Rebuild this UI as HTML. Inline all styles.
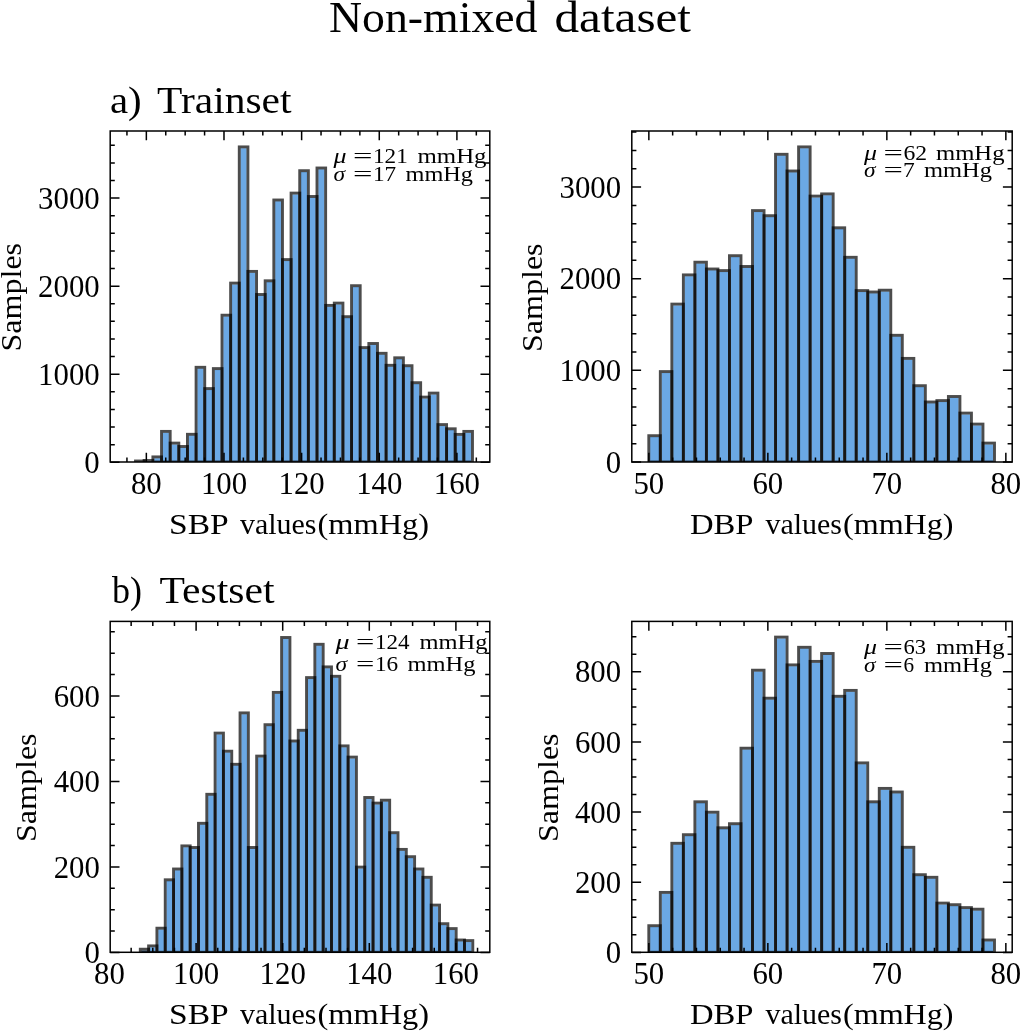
<!DOCTYPE html>
<html lang="en">
<head>
<meta charset="utf-8">
<title>Non-mixed dataset</title>
<style>
html,body{margin:0;padding:0;background:#fff;}
body{width:1020px;height:1032px;overflow:hidden;}
svg{display:block;}
svg text{font-family:"Liberation Serif", "DejaVu Serif", serif;fill:#000;}
</style>
</head>
<body>
<svg width="1020" height="1032" viewBox="0 0 1020 1032">
<rect width="1020" height="1032" fill="#fff"/>
<g>
<clipPath id="c1"><rect x="110.2" y="131" width="379.6" height="331"/></clipPath>
<g clip-path="url(#c1)">
<path d="M136.8 462.3h6.04v1h-6.04zM145.4 461.8h6.04v1.5h-6.04zM154.2 458.2h6.04v5.1h-6.04zM162.84 432.7h6.04v30.6h-6.04zM171.47 444.4h6.04v18.9h-6.04zM180.11 447.8h6.04v15.5h-6.04zM188.75 435.6h6.04v27.7h-6.04zM197.39 368.6h6.04v94.7h-6.04zM206.02 389.9h6.04v73.4h-6.04zM214.66 369.9h6.04v93.4h-6.04zM223.3 316.5h6.04v146.8h-6.04zM231.93 284.4h6.04v178.9h-6.04zM240.57 148.2h6.04v315.1h-6.04zM249.21 272.7h6.04v190.6h-6.04zM257.84 295.8h6.04v167.5h-6.04zM266.48 282.1h6.04v181.2h-6.04zM275.12 201.3h6.04v262h-6.04zM283.76 260.9h6.04v202.4h-6.04zM292.39 194.4h6.04v268.9h-6.04zM301.03 172h6.04v291.3h-6.04zM309.67 197.8h6.04v265.5h-6.04zM318.3 169.3h6.04v294h-6.04zM326.94 306.7h6.04v156.6h-6.04zM335.58 304.4h6.04v158.9h-6.04zM344.21 318h6.04v145.3h-6.04zM352.85 287h6.04v176.3h-6.04zM361.49 348.9h6.04v114.4h-6.04zM370.13 344.8h6.04v118.5h-6.04zM378.76 354.6h6.04v108.7h-6.04zM387.4 366.6h6.04v96.7h-6.04zM396.04 359.1h6.04v104.2h-6.04zM404.67 367h6.04v96.3h-6.04zM413.31 384h6.04v79.3h-6.04zM421.95 398.4h6.04v64.9h-6.04zM430.58 394.4h6.04v68.9h-6.04zM439.22 425.9h6.04v37.4h-6.04zM447.86 430.1h6.04v33.2h-6.04zM456.5 435.7h6.04v27.6h-6.04zM465.13 432.7h6.04v30.6h-6.04z" fill="#6ba8e4"/>
<g fill="none" stroke="rgba(0,0,0,0.7)" stroke-width="2.9">
<rect x="135.5" y="461" width="8.64" height="1"/>
<rect x="144.1" y="460.5" width="8.64" height="1.5"/>
<rect x="152.9" y="456.9" width="8.64" height="5.1"/>
<rect x="161.54" y="431.4" width="8.64" height="30.6"/>
<rect x="170.17" y="443.1" width="8.64" height="18.9"/>
<rect x="178.81" y="446.5" width="8.64" height="15.5"/>
<rect x="187.45" y="434.3" width="8.64" height="27.7"/>
<rect x="196.09" y="367.3" width="8.64" height="94.7"/>
<rect x="204.72" y="388.6" width="8.64" height="73.4"/>
<rect x="213.36" y="368.6" width="8.64" height="93.4"/>
<rect x="222" y="315.2" width="8.64" height="146.8"/>
<rect x="230.63" y="283.1" width="8.64" height="178.9"/>
<rect x="239.27" y="146.9" width="8.64" height="315.1"/>
<rect x="247.91" y="271.4" width="8.64" height="190.6"/>
<rect x="256.54" y="294.5" width="8.64" height="167.5"/>
<rect x="265.18" y="280.8" width="8.64" height="181.2"/>
<rect x="273.82" y="200" width="8.64" height="262"/>
<rect x="282.46" y="259.6" width="8.64" height="202.4"/>
<rect x="291.09" y="193.1" width="8.64" height="268.9"/>
<rect x="299.73" y="170.7" width="8.64" height="291.3"/>
<rect x="308.37" y="196.5" width="8.64" height="265.5"/>
<rect x="317" y="168" width="8.64" height="294"/>
<rect x="325.64" y="305.4" width="8.64" height="156.6"/>
<rect x="334.28" y="303.1" width="8.64" height="158.9"/>
<rect x="342.91" y="316.7" width="8.64" height="145.3"/>
<rect x="351.55" y="285.7" width="8.64" height="176.3"/>
<rect x="360.19" y="347.6" width="8.64" height="114.4"/>
<rect x="368.83" y="343.5" width="8.64" height="118.5"/>
<rect x="377.46" y="353.3" width="8.64" height="108.7"/>
<rect x="386.1" y="365.3" width="8.64" height="96.7"/>
<rect x="394.74" y="357.8" width="8.64" height="104.2"/>
<rect x="403.37" y="365.7" width="8.64" height="96.3"/>
<rect x="412.01" y="382.7" width="8.64" height="79.3"/>
<rect x="420.65" y="397.1" width="8.64" height="64.9"/>
<rect x="429.28" y="393.1" width="8.64" height="68.9"/>
<rect x="437.92" y="424.6" width="8.64" height="37.4"/>
<rect x="446.56" y="428.8" width="8.64" height="33.2"/>
<rect x="455.2" y="434.4" width="8.64" height="27.6"/>
<rect x="463.83" y="431.4" width="8.64" height="30.6"/>
</g></g>
<path d="M126.94 462v-4.6M126.94 131v4.6M146.35 462v-9.3M146.35 131v9.3M165.76 462v-4.6M165.76 131v4.6M185.17 462v-4.6M185.17 131v4.6M204.58 462v-4.6M204.58 131v4.6M223.99 462v-9.3M223.99 131v9.3M243.4 462v-4.6M243.4 131v4.6M262.81 462v-4.6M262.81 131v4.6M282.22 462v-4.6M282.22 131v4.6M301.63 462v-9.3M301.63 131v9.3M321.04 462v-4.6M321.04 131v4.6M340.45 462v-4.6M340.45 131v4.6M359.86 462v-4.6M359.86 131v4.6M379.27 462v-9.3M379.27 131v9.3M398.68 462v-4.6M398.68 131v4.6M418.09 462v-4.6M418.09 131v4.6M437.5 462v-4.6M437.5 131v4.6M456.91 462v-9.3M456.91 131v9.3M476.32 462v-4.6M476.32 131v4.6M110.2 462.25h9.3M489.8 462.25h-9.3M110.2 444.64h4.6M489.8 444.64h-4.6M110.2 427.03h4.6M489.8 427.03h-4.6M110.2 409.42h4.6M489.8 409.42h-4.6M110.2 391.81h4.6M489.8 391.81h-4.6M110.2 374.2h9.3M489.8 374.2h-9.3M110.2 356.59h4.6M489.8 356.59h-4.6M110.2 338.98h4.6M489.8 338.98h-4.6M110.2 321.37h4.6M489.8 321.37h-4.6M110.2 303.76h4.6M489.8 303.76h-4.6M110.2 286.15h9.3M489.8 286.15h-9.3M110.2 268.54h4.6M489.8 268.54h-4.6M110.2 250.93h4.6M489.8 250.93h-4.6M110.2 233.32h4.6M489.8 233.32h-4.6M110.2 215.71h4.6M489.8 215.71h-4.6M110.2 198.1h9.3M489.8 198.1h-9.3M110.2 180.49h4.6M489.8 180.49h-4.6M110.2 162.88h4.6M489.8 162.88h-4.6M110.2 145.27h4.6M489.8 145.27h-4.6" stroke="#000" stroke-width="1.5" fill="none"/>
<rect x="110.2" y="131" width="379.6" height="331" fill="none" stroke="#000" stroke-width="1.5"/>
<text x="146.35" y="493.8" font-size="30.8" text-anchor="middle">80</text>
<text x="223.99" y="493.8" font-size="30.8" text-anchor="middle">100</text>
<text x="301.63" y="493.8" font-size="30.8" text-anchor="middle">120</text>
<text x="379.27" y="493.8" font-size="30.8" text-anchor="middle">140</text>
<text x="456.91" y="493.8" font-size="30.8" text-anchor="middle">160</text>
<text x="99.7" y="472.85" font-size="30.8" text-anchor="end">0</text>
<text x="99.7" y="384.8" font-size="30.8" text-anchor="end">1000</text>
<text x="99.7" y="296.75" font-size="30.8" text-anchor="end">2000</text>
<text x="99.7" y="208.7" font-size="30.8" text-anchor="end">3000</text>
</g>
<g>
<clipPath id="c2"><rect x="631.8" y="131" width="380.4" height="331"/></clipPath>
<g clip-path="url(#c2)">
<path d="M650.1 437h8.92v26.3h-8.92zM661.62 372.9h8.92v90.4h-8.92zM673.15 305.4h8.92v157.9h-8.92zM684.67 276.2h8.92v187.1h-8.92zM696.19 263.5h8.92v199.8h-8.92zM707.71 270.3h8.92v193h-8.92zM719.24 271.9h8.92v191.4h-8.92zM730.76 257h8.92v206.3h-8.92zM742.28 267.8h8.92v195.5h-8.92zM753.81 211.9h8.92v251.4h-8.92zM765.33 217h8.92v246.3h-8.92zM776.85 155.6h8.92v307.7h-8.92zM788.38 172.3h8.92v291h-8.92zM799.9 148.2h8.92v315.1h-8.92zM811.42 197.4h8.92v265.9h-8.92zM822.94 195.2h8.92v268.1h-8.92zM834.47 229.1h8.92v234.2h-8.92zM845.99 258.6h8.92v204.7h-8.92zM857.51 291.9h8.92v171.4h-8.92zM869.04 293.3h8.92v170h-8.92zM880.56 291.5h8.92v171.8h-8.92zM892.08 336.6h8.92v126.7h-8.92zM903.61 359.7h8.92v103.6h-8.92zM915.13 387h8.92v76.3h-8.92zM926.65 403.3h8.92v60h-8.92zM938.17 401.9h8.92v61.4h-8.92zM949.7 397.8h8.92v65.5h-8.92zM961.22 414.4h8.92v48.9h-8.92zM972.74 425.4h8.92v37.9h-8.92zM984.27 444.4h8.92v18.9h-8.92z" fill="#6ba8e4"/>
<g fill="none" stroke="rgba(0,0,0,0.7)" stroke-width="2.9">
<rect x="648.8" y="435.7" width="11.52" height="26.3"/>
<rect x="660.32" y="371.6" width="11.52" height="90.4"/>
<rect x="671.85" y="304.1" width="11.52" height="157.9"/>
<rect x="683.37" y="274.9" width="11.52" height="187.1"/>
<rect x="694.89" y="262.2" width="11.52" height="199.8"/>
<rect x="706.41" y="269" width="11.52" height="193"/>
<rect x="717.94" y="270.6" width="11.52" height="191.4"/>
<rect x="729.46" y="255.7" width="11.52" height="206.3"/>
<rect x="740.98" y="266.5" width="11.52" height="195.5"/>
<rect x="752.51" y="210.6" width="11.52" height="251.4"/>
<rect x="764.03" y="215.7" width="11.52" height="246.3"/>
<rect x="775.55" y="154.3" width="11.52" height="307.7"/>
<rect x="787.08" y="171" width="11.52" height="291"/>
<rect x="798.6" y="146.9" width="11.52" height="315.1"/>
<rect x="810.12" y="196.1" width="11.52" height="265.9"/>
<rect x="821.64" y="193.9" width="11.52" height="268.1"/>
<rect x="833.17" y="227.8" width="11.52" height="234.2"/>
<rect x="844.69" y="257.3" width="11.52" height="204.7"/>
<rect x="856.21" y="290.6" width="11.52" height="171.4"/>
<rect x="867.74" y="292" width="11.52" height="170"/>
<rect x="879.26" y="290.2" width="11.52" height="171.8"/>
<rect x="890.78" y="335.3" width="11.52" height="126.7"/>
<rect x="902.31" y="358.4" width="11.52" height="103.6"/>
<rect x="913.83" y="385.7" width="11.52" height="76.3"/>
<rect x="925.35" y="402" width="11.52" height="60"/>
<rect x="936.88" y="400.6" width="11.52" height="61.4"/>
<rect x="948.4" y="396.5" width="11.52" height="65.5"/>
<rect x="959.92" y="413.1" width="11.52" height="48.9"/>
<rect x="971.44" y="424.1" width="11.52" height="37.9"/>
<rect x="982.97" y="443.1" width="11.52" height="18.9"/>
</g></g>
<path d="M648.85 462v-9.3M648.85 131v9.3M672.65 462v-4.6M672.65 131v4.6M696.45 462v-4.6M696.45 131v4.6M720.25 462v-4.6M720.25 131v4.6M744.05 462v-4.6M744.05 131v4.6M767.85 462v-9.3M767.85 131v9.3M791.65 462v-4.6M791.65 131v4.6M815.45 462v-4.6M815.45 131v4.6M839.25 462v-4.6M839.25 131v4.6M863.05 462v-4.6M863.05 131v4.6M886.85 462v-9.3M886.85 131v9.3M910.65 462v-4.6M910.65 131v4.6M934.45 462v-4.6M934.45 131v4.6M958.25 462v-4.6M958.25 131v4.6M982.05 462v-4.6M982.05 131v4.6M1005.85 462v-9.3M1005.85 131v9.3M631.8 462h9.3M1012.2 462h-9.3M631.8 443.67h4.6M1012.2 443.67h-4.6M631.8 425.34h4.6M1012.2 425.34h-4.6M631.8 407.01h4.6M1012.2 407.01h-4.6M631.8 388.68h4.6M1012.2 388.68h-4.6M631.8 370.35h9.3M1012.2 370.35h-9.3M631.8 352.02h4.6M1012.2 352.02h-4.6M631.8 333.69h4.6M1012.2 333.69h-4.6M631.8 315.36h4.6M1012.2 315.36h-4.6M631.8 297.03h4.6M1012.2 297.03h-4.6M631.8 278.7h9.3M1012.2 278.7h-9.3M631.8 260.37h4.6M1012.2 260.37h-4.6M631.8 242.04h4.6M1012.2 242.04h-4.6M631.8 223.71h4.6M1012.2 223.71h-4.6M631.8 205.38h4.6M1012.2 205.38h-4.6M631.8 187.05h9.3M1012.2 187.05h-9.3M631.8 168.72h4.6M1012.2 168.72h-4.6M631.8 150.39h4.6M1012.2 150.39h-4.6M631.8 132.06h4.6M1012.2 132.06h-4.6" stroke="#000" stroke-width="1.5" fill="none"/>
<rect x="631.8" y="131" width="380.4" height="331" fill="none" stroke="#000" stroke-width="1.5"/>
<text x="648.85" y="493.8" font-size="30.8" text-anchor="middle">50</text>
<text x="767.85" y="493.8" font-size="30.8" text-anchor="middle">60</text>
<text x="886.85" y="493.8" font-size="30.8" text-anchor="middle">70</text>
<text x="1005.85" y="493.8" font-size="30.8" text-anchor="middle">80</text>
<text x="621.1" y="472.6" font-size="30.8" text-anchor="end">0</text>
<text x="621.1" y="380.95" font-size="30.8" text-anchor="end">1000</text>
<text x="621.1" y="289.3" font-size="30.8" text-anchor="end">2000</text>
<text x="621.1" y="197.65" font-size="30.8" text-anchor="end">3000</text>
</g>
<g>
<clipPath id="c3"><rect x="110.2" y="621.4" width="379.6" height="330.9"/></clipPath>
<g clip-path="url(#c3)">
<path d="M141.6 950.5h5.71v3.1h-5.71zM149.91 947.2h5.71v6.4h-5.71zM158.23 929.5h5.71v24.1h-5.71zM166.54 881.1h5.71v72.5h-5.71zM174.85 870.3h5.71v83.3h-5.71zM183.16 847.2h5.71v106.4h-5.71zM191.48 848.8h5.71v104.8h-5.71zM199.79 824.6h5.71v129h-5.71zM208.1 795.6h5.71v158h-5.71zM216.41 734.4h5.71v219.2h-5.71zM224.73 752.5h5.71v201.1h-5.71zM233.04 765.6h5.71v188h-5.71zM241.35 714.2h5.71v239.4h-5.71zM249.66 848.8h5.71v104.8h-5.71zM257.98 757.4h5.71v196.2h-5.71zM266.29 726h5.71v227.6h-5.71zM274.6 693.7h5.71v259.9h-5.71zM282.91 638.8h5.71v314.8h-5.71zM291.23 742.3h5.71v211.3h-5.71zM299.54 731.6h5.71v222h-5.71zM307.85 678.9h5.71v274.7h-5.71zM316.16 645.6h5.71v308h-5.71zM324.48 668.2h5.71v285.4h-5.71zM332.79 677.6h5.71v276h-5.71zM341.1 747.2h5.71v206.4h-5.71zM349.41 758.4h5.71v195.2h-5.71zM357.73 868.4h5.71v85.2h-5.71zM366.04 798.8h5.71v154.8h-5.71zM374.35 804.4h5.71v149.2h-5.71zM382.66 801.5h5.71v152.1h-5.71zM390.98 834h5.71v119.6h-5.71zM399.29 850.7h5.71v102.9h-5.71zM407.6 858h5.71v95.6h-5.71zM415.91 870.3h5.71v83.3h-5.71zM424.23 878.6h5.71v75h-5.71zM432.54 906.4h5.71v47.2h-5.71zM440.85 925h5.71v28.6h-5.71zM449.16 929.9h5.71v23.7h-5.71zM457.48 941.3h5.71v12.3h-5.71zM465.79 941.9h5.71v11.7h-5.71z" fill="#6ba8e4"/>
<g fill="none" stroke="rgba(0,0,0,0.7)" stroke-width="2.9">
<rect x="140.3" y="949.2" width="8.31" height="3.1"/>
<rect x="148.61" y="945.9" width="8.31" height="6.4"/>
<rect x="156.93" y="928.2" width="8.31" height="24.1"/>
<rect x="165.24" y="879.8" width="8.31" height="72.5"/>
<rect x="173.55" y="869" width="8.31" height="83.3"/>
<rect x="181.86" y="845.9" width="8.31" height="106.4"/>
<rect x="190.18" y="847.5" width="8.31" height="104.8"/>
<rect x="198.49" y="823.3" width="8.31" height="129"/>
<rect x="206.8" y="794.3" width="8.31" height="158"/>
<rect x="215.11" y="733.1" width="8.31" height="219.2"/>
<rect x="223.43" y="751.2" width="8.31" height="201.1"/>
<rect x="231.74" y="764.3" width="8.31" height="188"/>
<rect x="240.05" y="712.9" width="8.31" height="239.4"/>
<rect x="248.36" y="847.5" width="8.31" height="104.8"/>
<rect x="256.68" y="756.1" width="8.31" height="196.2"/>
<rect x="264.99" y="724.7" width="8.31" height="227.6"/>
<rect x="273.3" y="692.4" width="8.31" height="259.9"/>
<rect x="281.61" y="637.5" width="8.31" height="314.8"/>
<rect x="289.93" y="741" width="8.31" height="211.3"/>
<rect x="298.24" y="730.3" width="8.31" height="222"/>
<rect x="306.55" y="677.6" width="8.31" height="274.7"/>
<rect x="314.86" y="644.3" width="8.31" height="308"/>
<rect x="323.18" y="666.9" width="8.31" height="285.4"/>
<rect x="331.49" y="676.3" width="8.31" height="276"/>
<rect x="339.8" y="745.9" width="8.31" height="206.4"/>
<rect x="348.11" y="757.1" width="8.31" height="195.2"/>
<rect x="356.43" y="867.1" width="8.31" height="85.2"/>
<rect x="364.74" y="797.5" width="8.31" height="154.8"/>
<rect x="373.05" y="803.1" width="8.31" height="149.2"/>
<rect x="381.36" y="800.2" width="8.31" height="152.1"/>
<rect x="389.68" y="832.7" width="8.31" height="119.6"/>
<rect x="397.99" y="849.4" width="8.31" height="102.9"/>
<rect x="406.3" y="856.7" width="8.31" height="95.6"/>
<rect x="414.61" y="869" width="8.31" height="83.3"/>
<rect x="422.93" y="877.3" width="8.31" height="75"/>
<rect x="431.24" y="905.1" width="8.31" height="47.2"/>
<rect x="439.55" y="923.7" width="8.31" height="28.6"/>
<rect x="447.86" y="928.6" width="8.31" height="23.7"/>
<rect x="456.18" y="940" width="8.31" height="12.3"/>
<rect x="464.49" y="940.6" width="8.31" height="11.7"/>
</g></g>
<path d="M131.15 952.3v-4.6M131.15 621.4v4.6M152.8 952.3v-4.6M152.8 621.4v4.6M174.45 952.3v-4.6M174.45 621.4v4.6M196.1 952.3v-9.3M196.1 621.4v9.3M217.75 952.3v-4.6M217.75 621.4v4.6M239.4 952.3v-4.6M239.4 621.4v4.6M261.05 952.3v-4.6M261.05 621.4v4.6M282.7 952.3v-9.3M282.7 621.4v9.3M304.35 952.3v-4.6M304.35 621.4v4.6M326 952.3v-4.6M326 621.4v4.6M347.65 952.3v-4.6M347.65 621.4v4.6M369.3 952.3v-9.3M369.3 621.4v9.3M390.95 952.3v-4.6M390.95 621.4v4.6M412.6 952.3v-4.6M412.6 621.4v4.6M434.25 952.3v-4.6M434.25 621.4v4.6M455.9 952.3v-9.3M455.9 621.4v9.3M477.55 952.3v-4.6M477.55 621.4v4.6M110.2 952.4h9.3M489.8 952.4h-9.3M110.2 931.02h4.6M489.8 931.02h-4.6M110.2 909.65h4.6M489.8 909.65h-4.6M110.2 888.27h4.6M489.8 888.27h-4.6M110.2 866.9h9.3M489.8 866.9h-9.3M110.2 845.52h4.6M489.8 845.52h-4.6M110.2 824.15h4.6M489.8 824.15h-4.6M110.2 802.77h4.6M489.8 802.77h-4.6M110.2 781.4h9.3M489.8 781.4h-9.3M110.2 760.02h4.6M489.8 760.02h-4.6M110.2 738.65h4.6M489.8 738.65h-4.6M110.2 717.27h4.6M489.8 717.27h-4.6M110.2 695.9h9.3M489.8 695.9h-9.3M110.2 674.52h4.6M489.8 674.52h-4.6M110.2 653.15h4.6M489.8 653.15h-4.6M110.2 631.77h4.6M489.8 631.77h-4.6" stroke="#000" stroke-width="1.5" fill="none"/>
<rect x="110.2" y="621.4" width="379.6" height="330.9" fill="none" stroke="#000" stroke-width="1.5"/>
<text x="109.5" y="983.6" font-size="30.8" text-anchor="middle">80</text>
<text x="196.1" y="983.6" font-size="30.8" text-anchor="middle">100</text>
<text x="282.7" y="983.6" font-size="30.8" text-anchor="middle">120</text>
<text x="369.3" y="983.6" font-size="30.8" text-anchor="middle">140</text>
<text x="455.9" y="983.6" font-size="30.8" text-anchor="middle">160</text>
<text x="99.9" y="963" font-size="30.8" text-anchor="end">0</text>
<text x="99.9" y="877.5" font-size="30.8" text-anchor="end">200</text>
<text x="99.9" y="792" font-size="30.8" text-anchor="end">400</text>
<text x="99.9" y="706.5" font-size="30.8" text-anchor="end">600</text>
</g>
<g>
<clipPath id="c4"><rect x="631.8" y="621.4" width="380.4" height="330.9"/></clipPath>
<g clip-path="url(#c4)">
<path d="M650.1 927h8.92v26.6h-8.92zM661.62 893.7h8.92v59.9h-8.92zM673.15 844.6h8.92v109h-8.92zM684.67 836h8.92v117.6h-8.92zM696.19 803.1h8.92v150.5h-8.92zM707.71 813.5h8.92v140.1h-8.92zM719.24 829.1h8.92v124.5h-8.92zM730.76 825h8.92v128.6h-8.92zM742.28 749.5h8.92v204.1h-8.92zM753.81 671.5h8.92v282.1h-8.92zM765.33 699.5h8.92v254.1h-8.92zM776.85 638.4h8.92v315.2h-8.92zM788.38 666.2h8.92v287.4h-8.92zM799.9 648.6h8.92v305h-8.92zM811.42 662.7h8.92v290.9h-8.92zM822.94 654.8h8.92v298.8h-8.92zM834.47 697.6h8.92v256h-8.92zM845.99 691.7h8.92v261.9h-8.92zM857.51 764.2h8.92v189.4h-8.92zM869.04 803.1h8.92v150.5h-8.92zM880.56 789.7h8.92v163.9h-8.92zM892.08 793.3h8.92v160.3h-8.92zM903.61 848.6h8.92v105h-8.92zM915.13 876h8.92v77.6h-8.92zM926.65 878.6h8.92v75h-8.92zM938.17 904.4h8.92v49.2h-8.92zM949.7 906h8.92v47.6h-8.92zM961.22 908.9h8.92v44.7h-8.92zM972.74 910.5h8.92v43.1h-8.92zM984.27 941.3h8.92v12.3h-8.92z" fill="#6ba8e4"/>
<g fill="none" stroke="rgba(0,0,0,0.7)" stroke-width="2.9">
<rect x="648.8" y="925.7" width="11.52" height="26.6"/>
<rect x="660.32" y="892.4" width="11.52" height="59.9"/>
<rect x="671.85" y="843.3" width="11.52" height="109"/>
<rect x="683.37" y="834.7" width="11.52" height="117.6"/>
<rect x="694.89" y="801.8" width="11.52" height="150.5"/>
<rect x="706.41" y="812.2" width="11.52" height="140.1"/>
<rect x="717.94" y="827.8" width="11.52" height="124.5"/>
<rect x="729.46" y="823.7" width="11.52" height="128.6"/>
<rect x="740.98" y="748.2" width="11.52" height="204.1"/>
<rect x="752.51" y="670.2" width="11.52" height="282.1"/>
<rect x="764.03" y="698.2" width="11.52" height="254.1"/>
<rect x="775.55" y="637.1" width="11.52" height="315.2"/>
<rect x="787.08" y="664.9" width="11.52" height="287.4"/>
<rect x="798.6" y="647.3" width="11.52" height="305"/>
<rect x="810.12" y="661.4" width="11.52" height="290.9"/>
<rect x="821.64" y="653.5" width="11.52" height="298.8"/>
<rect x="833.17" y="696.3" width="11.52" height="256"/>
<rect x="844.69" y="690.4" width="11.52" height="261.9"/>
<rect x="856.21" y="762.9" width="11.52" height="189.4"/>
<rect x="867.74" y="801.8" width="11.52" height="150.5"/>
<rect x="879.26" y="788.4" width="11.52" height="163.9"/>
<rect x="890.78" y="792" width="11.52" height="160.3"/>
<rect x="902.31" y="847.3" width="11.52" height="105"/>
<rect x="913.83" y="874.7" width="11.52" height="77.6"/>
<rect x="925.35" y="877.3" width="11.52" height="75"/>
<rect x="936.88" y="903.1" width="11.52" height="49.2"/>
<rect x="948.4" y="904.7" width="11.52" height="47.6"/>
<rect x="959.92" y="907.6" width="11.52" height="44.7"/>
<rect x="971.44" y="909.2" width="11.52" height="43.1"/>
<rect x="982.97" y="940" width="11.52" height="12.3"/>
</g></g>
<path d="M648.85 952.3v-9.3M648.85 621.4v9.3M672.65 952.3v-4.6M672.65 621.4v4.6M696.45 952.3v-4.6M696.45 621.4v4.6M720.25 952.3v-4.6M720.25 621.4v4.6M744.05 952.3v-4.6M744.05 621.4v4.6M767.85 952.3v-9.3M767.85 621.4v9.3M791.65 952.3v-4.6M791.65 621.4v4.6M815.45 952.3v-4.6M815.45 621.4v4.6M839.25 952.3v-4.6M839.25 621.4v4.6M863.05 952.3v-4.6M863.05 621.4v4.6M886.85 952.3v-9.3M886.85 621.4v9.3M910.65 952.3v-4.6M910.65 621.4v4.6M934.45 952.3v-4.6M934.45 621.4v4.6M958.25 952.3v-4.6M958.25 621.4v4.6M982.05 952.3v-4.6M982.05 621.4v4.6M1005.85 952.3v-9.3M1005.85 621.4v9.3M631.8 952.4h9.3M1012.2 952.4h-9.3M631.8 934.86h4.6M1012.2 934.86h-4.6M631.8 917.32h4.6M1012.2 917.32h-4.6M631.8 899.79h4.6M1012.2 899.79h-4.6M631.8 882.25h9.3M1012.2 882.25h-9.3M631.8 864.71h4.6M1012.2 864.71h-4.6M631.8 847.17h4.6M1012.2 847.17h-4.6M631.8 829.64h4.6M1012.2 829.64h-4.6M631.8 812.1h9.3M1012.2 812.1h-9.3M631.8 794.56h4.6M1012.2 794.56h-4.6M631.8 777.02h4.6M1012.2 777.02h-4.6M631.8 759.49h4.6M1012.2 759.49h-4.6M631.8 741.95h9.3M1012.2 741.95h-9.3M631.8 724.41h4.6M1012.2 724.41h-4.6M631.8 706.88h4.6M1012.2 706.88h-4.6M631.8 689.34h4.6M1012.2 689.34h-4.6M631.8 671.8h9.3M1012.2 671.8h-9.3M631.8 654.26h4.6M1012.2 654.26h-4.6M631.8 636.72h4.6M1012.2 636.72h-4.6" stroke="#000" stroke-width="1.5" fill="none"/>
<rect x="631.8" y="621.4" width="380.4" height="330.9" fill="none" stroke="#000" stroke-width="1.5"/>
<text x="648.85" y="983.6" font-size="30.8" text-anchor="middle">50</text>
<text x="767.85" y="983.6" font-size="30.8" text-anchor="middle">60</text>
<text x="886.85" y="983.6" font-size="30.8" text-anchor="middle">70</text>
<text x="1005.85" y="983.6" font-size="30.8" text-anchor="middle">80</text>
<text x="621.1" y="963" font-size="30.8" text-anchor="end">0</text>
<text x="621.1" y="892.85" font-size="30.8" text-anchor="end">200</text>
<text x="621.1" y="822.7" font-size="30.8" text-anchor="end">400</text>
<text x="621.1" y="752.55" font-size="30.8" text-anchor="end">600</text>
<text x="621.1" y="682.4" font-size="30.8" text-anchor="end">800</text>
</g>
<text x="329" y="31.6" font-size="44" textLength="208.51" lengthAdjust="spacingAndGlyphs">Non-mixed</text>
<text x="554.5" y="31.6" font-size="44" textLength="136.51" lengthAdjust="spacingAndGlyphs">dataset</text>
<text x="110" y="113.1" font-size="37.5" textLength="31.73" lengthAdjust="spacingAndGlyphs">a)</text>
<text x="157" y="113.1" font-size="37.5" textLength="134.51" lengthAdjust="spacingAndGlyphs">Trainset</text>
<text x="112" y="603.1" font-size="37.5" textLength="30.01" lengthAdjust="spacingAndGlyphs">b)</text>
<text x="159.5" y="603.1" font-size="37.5" textLength="115.01" lengthAdjust="spacingAndGlyphs">Testset</text>
<text x="169" y="533.8" font-size="29.6" textLength="59.65" lengthAdjust="spacingAndGlyphs">SBP</text>
<text x="240" y="533.8" font-size="29.6" textLength="76.51" lengthAdjust="spacingAndGlyphs">values</text>
<text x="317.5" y="533.8" font-size="29.6" textLength="111.56" lengthAdjust="spacingAndGlyphs">(mmHg)</text>
<text x="690" y="533.8" font-size="29.6" textLength="63.53" lengthAdjust="spacingAndGlyphs">DBP</text>
<text x="765.5" y="533.8" font-size="29.6" textLength="76.51" lengthAdjust="spacingAndGlyphs">values</text>
<text x="843" y="533.8" font-size="29.6" textLength="110.55" lengthAdjust="spacingAndGlyphs">(mmHg)</text>
<text x="169" y="1023.6" font-size="29.6" textLength="59.65" lengthAdjust="spacingAndGlyphs">SBP</text>
<text x="240" y="1023.6" font-size="29.6" textLength="76.51" lengthAdjust="spacingAndGlyphs">values</text>
<text x="317.5" y="1023.6" font-size="29.6" textLength="111.56" lengthAdjust="spacingAndGlyphs">(mmHg)</text>
<text x="690" y="1023.6" font-size="29.6" textLength="63.53" lengthAdjust="spacingAndGlyphs">DBP</text>
<text x="765.5" y="1023.6" font-size="29.6" textLength="76.51" lengthAdjust="spacingAndGlyphs">values</text>
<text x="843" y="1023.6" font-size="29.6" textLength="110.55" lengthAdjust="spacingAndGlyphs">(mmHg)</text>
<text transform="translate(21.3 351.5) rotate(-90)" font-size="29.6" textLength="108.58" lengthAdjust="spacingAndGlyphs">Samples</text>
<text transform="translate(542.3 352) rotate(-90)" font-size="29.6" textLength="108.58" lengthAdjust="spacingAndGlyphs">Samples</text>
<text transform="translate(35.7 842) rotate(-90)" font-size="29.6" textLength="108.58" lengthAdjust="spacingAndGlyphs">Samples</text>
<text transform="translate(557.8 842) rotate(-90)" font-size="29.6" textLength="108.58" lengthAdjust="spacingAndGlyphs">Samples</text>
<text x="333.5" y="162.9" font-size="20.4" textLength="13.03" lengthAdjust="spacingAndGlyphs" font-style="italic">μ</text>
<text x="353" y="162.9" font-size="20.4" textLength="19.47" lengthAdjust="spacingAndGlyphs">=</text>
<text x="373" y="162.9" font-size="20.4" textLength="34.77" lengthAdjust="spacingAndGlyphs">121</text>
<text x="417.5" y="162.9" font-size="20.4" textLength="69.01" lengthAdjust="spacingAndGlyphs">mmHg</text>
<text x="333.5" y="180.5" font-size="20.4" textLength="11.58" lengthAdjust="spacingAndGlyphs" font-style="italic">σ</text>
<text x="353" y="180.5" font-size="20.4" textLength="19.47" lengthAdjust="spacingAndGlyphs">=</text>
<text x="373" y="180.5" font-size="20.4" textLength="23.23" lengthAdjust="spacingAndGlyphs">17</text>
<text x="405.5" y="180.5" font-size="20.4" textLength="67.51" lengthAdjust="spacingAndGlyphs">mmHg</text>
<text x="864" y="159.6" font-size="20.4" textLength="13.03" lengthAdjust="spacingAndGlyphs" font-style="italic">μ</text>
<text x="883.5" y="159.6" font-size="20.4" textLength="19.39" lengthAdjust="spacingAndGlyphs">=</text>
<text x="903.5" y="159.6" font-size="20.4" textLength="23.67" lengthAdjust="spacingAndGlyphs">62</text>
<text x="936" y="159.6" font-size="20.4" textLength="68.51" lengthAdjust="spacingAndGlyphs">mmHg</text>
<text x="864" y="177.3" font-size="20.4" textLength="11.58" lengthAdjust="spacingAndGlyphs" font-style="italic">σ</text>
<text x="883.5" y="177.3" font-size="20.4" textLength="19.39" lengthAdjust="spacingAndGlyphs">=</text>
<text x="903" y="177.3" font-size="20.4" textLength="11.78" lengthAdjust="spacingAndGlyphs">7</text>
<text x="924" y="177.3" font-size="20.4" textLength="68.01" lengthAdjust="spacingAndGlyphs">mmHg</text>
<text x="335.5" y="649.4" font-size="20.4" textLength="14.12" lengthAdjust="spacingAndGlyphs" font-style="italic">μ</text>
<text x="356" y="649.4" font-size="20.4" textLength="18.33" lengthAdjust="spacingAndGlyphs">=</text>
<text x="375" y="649.4" font-size="20.4" textLength="34.56" lengthAdjust="spacingAndGlyphs">124</text>
<text x="419.5" y="649.4" font-size="20.4" textLength="68.02" lengthAdjust="spacingAndGlyphs">mmHg</text>
<text x="335.5" y="671" font-size="20.4" textLength="11.58" lengthAdjust="spacingAndGlyphs" font-style="italic">σ</text>
<text x="356" y="671" font-size="20.4" textLength="18.33" lengthAdjust="spacingAndGlyphs">=</text>
<text x="375" y="671" font-size="20.4" textLength="23.21" lengthAdjust="spacingAndGlyphs">16</text>
<text x="407.5" y="671" font-size="20.4" textLength="68.02" lengthAdjust="spacingAndGlyphs">mmHg</text>
<text x="864" y="654.2" font-size="20.4" textLength="13.03" lengthAdjust="spacingAndGlyphs" font-style="italic">μ</text>
<text x="883.5" y="654.2" font-size="20.4" textLength="19.39" lengthAdjust="spacingAndGlyphs">=</text>
<text x="903.5" y="654.2" font-size="20.4" textLength="22.59" lengthAdjust="spacingAndGlyphs">63</text>
<text x="936" y="654.2" font-size="20.4" textLength="68.51" lengthAdjust="spacingAndGlyphs">mmHg</text>
<text x="864" y="671.6" font-size="20.4" textLength="11.58" lengthAdjust="spacingAndGlyphs" font-style="italic">σ</text>
<text x="883.5" y="671.6" font-size="20.4" textLength="19.39" lengthAdjust="spacingAndGlyphs">=</text>
<text x="903.5" y="671.6" font-size="20.4" textLength="10.6" lengthAdjust="spacingAndGlyphs">6</text>
<text x="924" y="671.6" font-size="20.4" textLength="68.01" lengthAdjust="spacingAndGlyphs">mmHg</text>
</svg>
</body>
</html>
